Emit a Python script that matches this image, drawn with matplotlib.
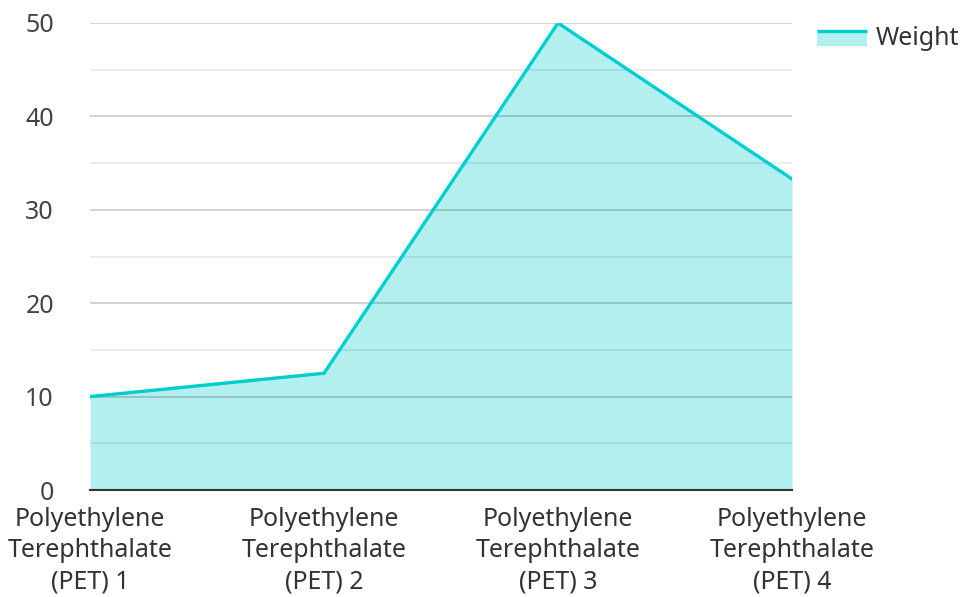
import matplotlib.pyplot as plt
from matplotlib.lines import Line2D
from matplotlib.patches import Rectangle
from matplotlib.ticker import MultipleLocator

categories = [
    "Polyethylene\nTerephthalate\n(PET) 1",
    "Polyethylene\nTerephthalate\n(PET) 2",
    "Polyethylene\nTerephthalate\n(PET) 3",
    "Polyethylene\nTerephthalate\n(PET) 4",
]
weight = [10, 12.5, 50, 33.3]
series_name = "Weight"

LINE = "#00cdcd"
FILL = "#b2efee"
TEXT = "#333333"

plt.rcParams["font.family"] = ["Noto Sans", "DejaVu Sans"]


class AreaHandler:
    def legend_artist(self, legend, orig_handle, fontsize, handlebox):
        x0, y0 = handlebox.xdescent, handlebox.ydescent
        w, h = handlebox.width, handlebox.height
        rect = Rectangle((x0, y0), w, h, facecolor=FILL, edgecolor="none",
                         transform=handlebox.get_transform())
        line = Line2D([x0, x0 + w], [y0 + h - 1, y0 + h - 1], color=LINE, lw=2.4,
                      solid_capstyle="butt", transform=handlebox.get_transform())
        handlebox.add_artist(rect)
        handlebox.add_artist(line)
        return rect


fig = plt.figure(figsize=(9.62, 5.97), dpi=100)
ax = fig.add_axes([90 / 962, 1 - 490 / 597, 702 / 962, 467 / 597])

x = list(range(len(categories)))
ax.fill_between(x, weight, 0, color=FILL, lw=0, zorder=1)
ax.plot(x, weight, color=LINE, lw=2.4, zorder=3)

ax.set_xlim(0, len(categories) - 1)
ax.set_ylim(0, 50)
ax.yaxis.set_major_locator(MultipleLocator(10))
ax.yaxis.set_minor_locator(MultipleLocator(5))
ax.grid(which="major", axis="y", color="#000000", alpha=0.2, lw=1.2, zorder=2)
ax.grid(which="minor", axis="y", color="#000000", alpha=0.09, lw=1.2, zorder=2)
ax.set_axisbelow(False)

for s in ["left", "right", "top"]:
    ax.spines[s].set_visible(False)
ax.spines["bottom"].set_color(TEXT)
ax.spines["bottom"].set_linewidth(1.5)
ax.spines["bottom"].set_zorder(4)

ax.set_xticks(x)
ax.set_xticklabels(categories, fontsize=18, color=TEXT, linespacing=1.33)
ax.tick_params(axis="x", length=0, pad=12)
ax.tick_params(axis="y", which="both", length=0, pad=26, labelsize=18, labelcolor="#444444")

handle = Rectangle((0, 0), 1, 1)
leg = fig.legend([handle], [series_name], handler_map={Rectangle: AreaHandler()},
                 loc="upper left", bbox_to_anchor=(817 / 962, 1 - 26 / 597),
                 frameon=False, fontsize=18, handlelength=2.0, handleheight=0.6,
                 handletextpad=0.36, borderpad=0, borderaxespad=0, labelcolor=TEXT)

fig.savefig("out.png", dpi=100)
